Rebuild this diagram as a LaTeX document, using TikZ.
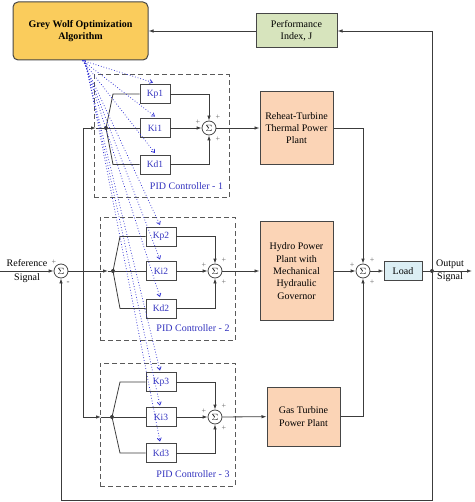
\documentclass[tikz,border=0pt]{standalone}
\usepackage{fontspec}
\setmainfont{Liberation Serif}
\usetikzlibrary{arrows.meta}
\definecolor{lc}{RGB}{60,60,60}
\definecolor{bc}{RGB}{70,70,70}
\definecolor{dc}{RGB}{90,90,90}
\definecolor{kblue}{RGB}{50,50,190}
\definecolor{gwl}{RGB}{45,45,210}
\definecolor{gwofill}{RGB}{250,204,92}
\definecolor{perffill}{RGB}{215,228,189}
\definecolor{plantfill}{RGB}{251,212,182}
\definecolor{loadfill}{RGB}{219,238,244}
\definecolor{sgc}{RGB}{100,100,100}
\begin{document}
\begin{tikzpicture}[x=1pt,y=-1pt,
  line/.style={draw=lc, line width=0.8pt},
  arr/.style={line, -{Latex[length=5pt,width=3.5pt]}},
  blk/.style={draw=bc, line width=1pt, align=center, inner sep=0pt, font=\fontsize{10}{12.3}\selectfont},
  kbox/.style={draw=bc, line width=0.9pt, minimum width=30pt, minimum height=19pt, inner sep=0pt, text=kblue, font=\fontsize{9.5}{11}\selectfont},
  sumc/.style={circle, draw=bc, line width=0.8pt, minimum size=14pt, inner sep=0pt, font=\fontsize{9.5}{9.5}\selectfont},
  pidbox/.style={draw=dc, line width=1pt, dash pattern=on 5pt off 3pt, minimum width=135pt, minimum height=123pt, inner sep=0pt},
  pidlab/.style={text=kblue, inner sep=0pt, font=\fontsize{10}{12}\selectfont},
  gw/.style={draw=gwl, dotted, line width=0.75pt, -{Straight Barb[length=3pt,width=4pt]}},
  sgn/.style={font=\fontsize{8}{8}\selectfont, text=sgc, inner sep=0pt},
  jdot/.style={circle, fill=lc, inner sep=0pt, minimum size=4pt},
  txt/.style={inner sep=0pt, align=center, font=\fontsize{10}{12.3}\selectfont}
]
\useasboundingbox (0,0) rectangle (474,502);

% main blocks
\node[blk, fill=gwofill, rounded corners=5pt, minimum width=135pt, minimum height=58pt,
      font=\bfseries\fontsize{10}{12.5}\selectfont] (gwo) at (80.5,31) {Grey Wolf Optimization\\Algorithm};
\node[blk, fill=perffill, minimum width=81pt, minimum height=34pt] (perf) at (296.5,31) {Performance\\Index, J};
\node[blk, fill=plantfill, minimum width=73pt, minimum height=73pt] (reheat) at (296.5,128) {Reheat-Turbine\\Thermal Power\\Plant};
\node[blk, fill=plantfill, minimum width=73pt, minimum height=98pt] (hydro) at (296.5,271) {Hydro Power\\Plant with\\Mechanical\\Hydraulic\\Governor};
\node[blk, fill=plantfill, minimum width=73pt, minimum height=59pt] (gas) at (303.5,416.5) {Gas Turbine\\Power Plant};
\node[blk, fill=loadfill, minimum width=38pt, minimum height=19pt] (load) at (403,271) {Load};

% summing junctions
\node[sumc] (sref) at (61,271) {$\Sigma$};
\node[sumc] (smain) at (363,271) {$\Sigma$};
\node[sumc] (s1) at (209,128) {$\Sigma$};
\node[sumc] (s2) at (215,271) {$\Sigma$};
\node[sumc] (s3) at (215,417) {$\Sigma$};

% PID dashed boxes
\node[pidbox] (pid1) at (161.5,136.5) {};
\node[pidbox] (pid2) at (167.5,279) {};
\node[pidbox] (pid3) at (167.5,424.5) {};
\node[pidlab] (lab1) at (186.5,186) {PID Controller - 1};
\node[pidlab] (lab2) at (193,328) {PID Controller - 2};
\node[pidlab] (lab3) at (193,474) {PID Controller - 3};

% gain blocks
\node[kbox] (kp1) at (155,94) {Kp1};
\node[kbox] (ki1) at (155,128) {Ki1};
\node[kbox] (kd1) at (155,164.5) {Kd1};
\node[kbox] (kp2) at (161,236.5) {Kp2};
\node[kbox] (ki2) at (161,271) {Ki2};
\node[kbox] (kd2) at (161,308.5) {Kd2};
\node[kbox] (kp3) at (161,382) {Kp3};
\node[kbox] (ki3) at (161,417) {Ki3};
\node[kbox] (kd3) at (161,453) {Kd3};

% junction dots
\node[jdot] (j1) at (106,128) {};
\node[jdot] (j2) at (113,271) {};
\node[jdot] (j3) at (112,417) {};
\node[jdot] (jout) at (432,271) {};

% coordinates
\coordinate (b1) at (83,128);
\coordinate (b2) at (83,271);
\coordinate (b3) at (83,417);
\coordinate (e1) at (96,128);
\coordinate (e2) at (108,271);
\coordinate (e3) at (101,417);
\coordinate (refin) at (0,271);
\coordinate (outend) at (472,271);
\coordinate (fbtop) at (432,31);
\coordinate (fbr) at (432,500);
\coordinate (fbl) at (61,500);

% reference input and bus
\draw[arr] (refin) -- (sref);
\node[txt] (reflab) at (27,271) {Reference\\[1pt]Signal};
\draw[arr] (sref.east) -- (e2);
\draw[line] (e2) -- (j2);
\draw[line] (b1) -- (b3);
\draw[arr] (b1) -- (e1);
\draw[line] (e1) -- (j1);
\draw[arr] (b3) -- (e3);
\draw[line] (e3) -- (j3);

% PID 1 internals
\draw[line] (j1.center) -- (113,94) -- (kp1.west);
\draw[line] (j1.center) -- (113,164.5) -- (kd1.west);
\draw[line] (j1) -- (ki1);
\draw[arr] (kp1.east) -| (s1.north);
\draw[arr] (kd1.east) -| (s1.south);
\draw[arr] (ki1) -- (s1);
% PID 2 internals
\draw[line] (j2.center) -- (120,236.5) -- (kp2.west);
\draw[line] (j2.center) -- (120,308.5) -- (kd2.west);
\draw[line] (j2) -- (ki2);
\draw[arr] (kp2.east) -| (s2.north);
\draw[arr] (kd2.east) -| (s2.south);
\draw[arr] (ki2) -- (s2);
% PID 3 internals
\draw[line] (j3.center) -- (120,382) -- (kp3.west);
\draw[line] (j3.center) -- (120,453) -- (kd3.west);
\draw[line] (j3) -- (ki3);
\draw[arr] (kp3.east) -| (s3.north);
\draw[arr] (kd3.east) -| (s3.south);
\draw[arr] (ki3) -- (s3);

% signs
\foreach \s in {s1,s2,s3,smain}{
  \node[sgn] at ([shift={(-11,-6)}]\s.center) {+};
  \node[sgn] at ([shift={(9,-11)}]\s.center) {+};
  \node[sgn] at ([shift={(9,11)}]\s.center) {+};
}
\node[sgn] (refplus) at (54,262) {+};
\node[sgn, font=\bfseries\fontsize{9}{9}\selectfont] (refminus) at (68,283) {-};

% plants
\draw[arr] (s1) -- (reheat);
\draw[arr] (s2) -- (hydro);
\draw[arr] (s3) -- (gas);
\draw[arr] (reheat.east) -| (smain.north);
\draw[arr] (hydro) -- (smain);
\draw[arr] (gas.east) -| (smain.south);
\draw[arr] (smain) -- (load);
\draw[line] (load) -- (jout);
\draw[arr] (jout) -- (outend);
\node[txt] (outlab) at (450,271) {Output\\[1pt]Signal};

% feedback
\draw[arr] (jout.center) -- (fbtop) -- (perf.east);
\draw[arr] (perf) -- (gwo);
\draw[arr] (jout.center) -- (fbr) -- (fbl) -- (sref.south);

% GWO tuning signals
\draw[gw] ([xshift=2pt]gwo.south) -- ([shift={(-2,-1.5)}]kp1.north);
\draw[gw] ([xshift=2pt]gwo.south) -- ([shift={(0,-1.5)}]ki1.north);
\draw[gw] ([xshift=2pt]gwo.south) -- ([shift={(0,-1.5)}]kd1.north);
\draw[gw] ([xshift=2.5pt]gwo.south) -- ([shift={(-1,-1.5)}]kp2.north);
\draw[gw] ([xshift=3pt]gwo.south) -- ([shift={(-1,-1.5)}]ki2.north);
\draw[gw] ([xshift=3.5pt]gwo.south) -- ([shift={(-1,-1.5)}]kd2.north);
\draw[gw] ([xshift=4pt]gwo.south) -- ([shift={(-1,-1.5)}]kp3.north);
\draw[gw] ([xshift=4.5pt]gwo.south) -- ([shift={(-1,-1.5)}]ki3.north);
\draw[gw] ([xshift=5pt]gwo.south) -- ([shift={(-1,-1.5)}]kd3.north);
\end{tikzpicture}
\end{document}
